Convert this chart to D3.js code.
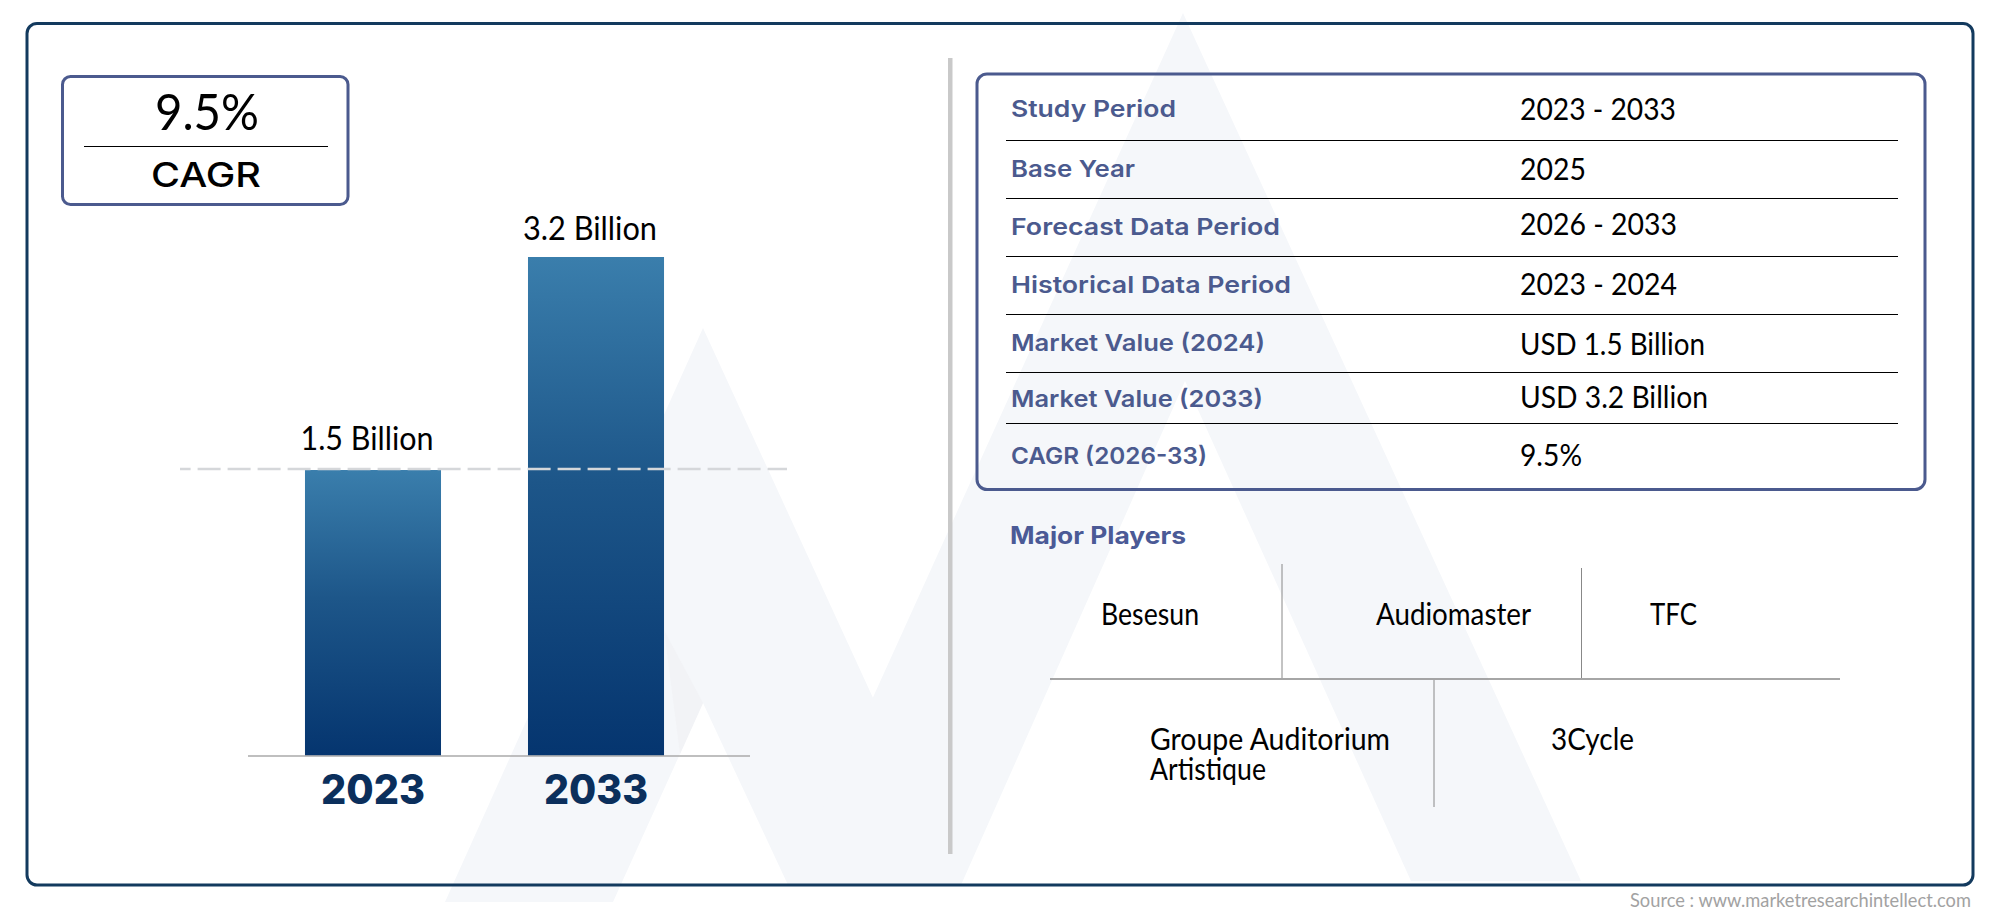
<!DOCTYPE html>
<html>
<head>
<meta charset="utf-8">
<script src="https://cdnjs.cloudflare.com/ajax/libs/d3/7.8.5/d3.min.js"></script>
<style>
html,body{margin:0;padding:0;background:#fff;overflow:hidden}
svg{display:block}
</style>
</head>
<body>
<svg id="chart" width="2000" height="917"></svg>
<script>
// ---- data ----
const years = ["2023", "2033"];
const marketValues = [1.5, 3.2];
const valueLabels = ["1.5 Billion", "3.2 Billion"];
const cagrValue = "9.5%";
const cagrLabel = "CAGR";
const tableLabels = ["Study Period", "Base Year", "Forecast Data Period", "Historical Data Period", "Market Value (2024)", "Market Value (2033)", "CAGR (2026-33)"];
const tableValues = ["2023 - 2033", "2025", "2026 - 2033", "2023 - 2024", "USD 1.5 Billion", "USD 3.2 Billion", "9.5%"];
const playersTitle = "Major Players";
const playerLines = [["Besesun"], ["Audiomaster"], ["TFC"], ["Groupe Auditorium", "Artistique"], ["3Cycle"]];
const sourceText = "Source : www.marketresearchintellect.com";

// ---- layout (separate from data) ----
const labelY = [117, 177, 235, 293, 351, 407, 464];
const labelW = [165, 124, 269, 280, 254, 252, 196];
const valueY = [120, 180, 235, 295, 355, 408, 466];
const valueW = [156, 66, 157, 157, 185, 188, 62];
const ruleY = [140, 198, 256, 314, 372, 423];
const playerX = [1101, 1376, 1650, 1150, 1551];
const playerY = [625, 625, 625, 750, 750];
const playerW = [[98], [155], [47], [240, 116], [83]];
const playerLineGap = 30;
const valueLabelW = [133, 134];
const valueLabelGap = [20, 17];
const valueLabelShift = -6;

const INK = "#000", NAVY = "#133a5e", SLATE = "#4b5a8e", WM = "#f5f7fa";
const LIGHT = "Lato, 'Open Sans', sans-serif";
const WIDE = "Inter, 'Open Sans', sans-serif";

const svg = d3.select("#chart");
const defs = svg.append("defs");
const grad = defs.append("linearGradient").attr("id", "barFill")
  .attr("x1", 0).attr("y1", 0).attr("x2", 0).attr("y2", 1);
grad.append("stop").attr("offset", "0%").attr("stop-color", "#3a7eac");
grad.append("stop").attr("offset", "45%").attr("stop-color", "#1d5689");
grad.append("stop").attr("offset", "100%").attr("stop-color", "#05356f");

function fit(sel, w) { return sel.attr("textLength", w).attr("lengthAdjust", "spacingAndGlyphs"); }

// ---- watermark ----
const line = d3.line();
const wm = svg.append("g").attr("fill", WM);
wm.append("path").attr("d", line([[703,328],[959,885],[788,885],[703,703],[613,902],[445,902]]) + "Z");
wm.append("path").attr("d", line([[1183,13],[1581,881],[1411,881],[1185,381],[961,885],[788,885]]) + "Z");
wm.append("path").attr("fill", "#f2f3f6").attr("d", line([[664,630],[703,703],[680,754]]) + "Z");

// ---- outer card ----
svg.append("rect").attr("x", 27).attr("y", 23.5).attr("width", 1946).attr("height", 861.5)
  .attr("rx", 10).attr("fill", "none").attr("stroke", NAVY).attr("stroke-width", 3);

// ---- divider ----
svg.append("rect").attr("x", 948).attr("y", 58).attr("width", 4.5).attr("height", 796).attr("fill", "#c9c9c9");

// ---- CAGR box ----
svg.append("rect").attr("x", 62.5).attr("y", 76.5).attr("width", 285.5).attr("height", 128)
  .attr("rx", 8).attr("fill", "none").attr("stroke", SLATE).attr("stroke-width", 3);
svg.append("line").attr("x1", 84).attr("x2", 328).attr("y1", 146.5).attr("y2", 146.5).attr("stroke", "#000").attr("stroke-width", 1);
fit(svg.append("text").attr("x", 155).attr("y", 130).attr("font-family", LIGHT).attr("font-size", 50).attr("fill", INK).text(cagrValue), 104);
fit(svg.append("text").attr("x", 151).attr("y", 187).attr("font-family", WIDE).attr("font-weight", 500).attr("font-size", 34).attr("fill", INK).text(cagrLabel), 110);

// ---- bars ----
const x = d3.scaleBand().domain(years).range([205, 764]).paddingInner(0.39).paddingOuter(0.4483);
const y = d3.scaleLinear().domain([-0.78, 3.2]).range([755.7, 257]);

svg.append("g").selectAll("rect").data(years).join("rect")
  .attr("x", d => x(d)).attr("width", x.bandwidth())
  .attr("y", (d, i) => y(marketValues[i]))
  .attr("height", (d, i) => y.range()[0] - y(marketValues[i]))
  .attr("fill", "url(#barFill)");

svg.append("line").attr("x1", 248).attr("x2", 750).attr("y1", 756).attr("y2", 756).attr("stroke", "#aaa").attr("stroke-width", 1.5);

const xAxis = d3.axisBottom(x).tickSize(0).tickPadding(0);
const axisG = svg.append("g").attr("transform", "translate(0,756)").call(xAxis);
axisG.select(".domain").remove();
axisG.selectAll("text").attr("dy", null).attr("y", 48)
  .attr("font-family", WIDE).attr("font-weight", 800).attr("font-size", 41)
  .attr("fill", "#0b2f5c").attr("textLength", 104).attr("lengthAdjust", "spacingAndGlyphs");

// reference dashed level
svg.append("line").attr("x1", 180).attr("x2", 787)
  .attr("y1", y(marketValues[0]) - 1).attr("y2", y(marketValues[0]) - 1)
  .attr("stroke", "#d5d7da").attr("stroke-width", 2.6)
  .attr("stroke-dasharray", "23 7").attr("stroke-dashoffset", 12.4);

svg.append("g").selectAll("text").data(years).join("text")
  .attr("x", d => x(d) + x.bandwidth() / 2 + valueLabelShift)
  .attr("y", (d, i) => y(marketValues[i]) - valueLabelGap[i])
  .attr("text-anchor", "middle").attr("font-family", LIGHT).attr("font-size", 33).attr("fill", INK)
  .attr("textLength", (d, i) => valueLabelW[i]).attr("lengthAdjust", "spacingAndGlyphs")
  .text((d, i) => valueLabels[i]);

// ---- table ----
svg.append("rect").attr("x", 977).attr("y", 74).attr("width", 948).attr("height", 415.5)
  .attr("rx", 10).attr("fill", "none").attr("stroke", SLATE).attr("stroke-width", 3);
svg.append("g").selectAll("line").data(ruleY).join("line")
  .attr("x1", 1006).attr("x2", 1898).attr("y1", d => d + 0.5).attr("y2", d => d + 0.5)
  .attr("stroke", "#000").attr("stroke-width", 1);
svg.append("g").selectAll("text").data(tableLabels).join("text")
  .attr("x", 1011).attr("y", (d, i) => labelY[i])
  .attr("font-family", WIDE).attr("font-weight", 600).attr("font-size", 23.5).attr("fill", SLATE)
  .attr("textLength", (d, i) => labelW[i]).attr("lengthAdjust", "spacingAndGlyphs").text(d => d);
svg.append("g").selectAll("text").data(tableValues).join("text")
  .attr("x", 1520).attr("y", (d, i) => valueY[i])
  .attr("font-family", LIGHT).attr("font-size", 30).attr("fill", INK)
  .attr("textLength", (d, i) => valueW[i]).attr("lengthAdjust", "spacingAndGlyphs").text(d => d);

// ---- players ----
fit(svg.append("text").attr("x", 1010).attr("y", 544).attr("font-family", WIDE).attr("font-weight", 700)
  .attr("font-size", 24).attr("fill", "#4b5a96").text(playersTitle), 176);
svg.append("line").attr("x1", 1050).attr("x2", 1840).attr("y1", 679).attr("y2", 679).attr("stroke", "#888").attr("stroke-width", 1.5);
[[1282, 564, 678], [1581.5, 568, 678], [1434, 680, 807]].forEach(([vx, a, b]) => {
  svg.append("line").attr("x1", vx).attr("x2", vx).attr("y1", a).attr("y2", b).attr("stroke", "#888").attr("stroke-width", 1);
});
const playerText = svg.append("g").selectAll("text").data(playerLines).join("text")
  .attr("font-family", LIGHT).attr("font-size", 30).attr("fill", INK);
playerText.each(function (lines, i) {
  d3.select(this).selectAll("tspan").data(lines).join("tspan")
    .attr("x", playerX[i]).attr("y", (d, j) => playerY[i] + j * playerLineGap)
    .attr("textLength", (d, j) => playerW[i][j]).attr("lengthAdjust", "spacingAndGlyphs")
    .text(d => d);
});

// ---- source ----
fit(svg.append("text").attr("x", 1630).attr("y", 907).attr("font-family", "Lato, sans-serif")
  .attr("font-size", 19).attr("fill", "#a2a2a2").text(sourceText), 341);
</script>
</body>
</html>
